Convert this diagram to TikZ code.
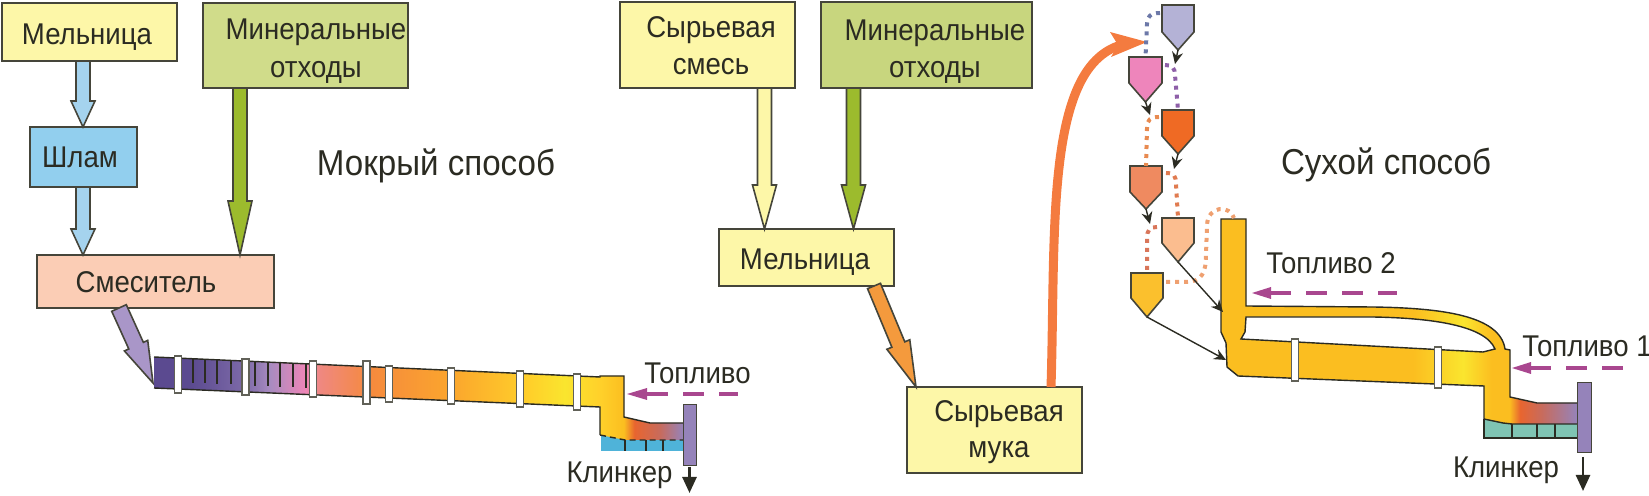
\documentclass[tikz,border=0pt]{standalone}
\usepackage{fontspec}
\setmainfont[FakeStretch=0.92]{Liberation Sans}
\usetikzlibrary{calc,arrows.meta}
\definecolor{ink}{HTML}{2B2B22}
\definecolor{edge}{HTML}{45453A}
\definecolor{paleY}{HTML}{FDF7A8}
\definecolor{paleG}{HTML}{D0DC8A}
\definecolor{paleG2}{HTML}{C8D67E}
\definecolor{skyA}{HTML}{A5D3EE}
\definecolor{skyB}{HTML}{92CFEE}
\definecolor{peach}{HTML}{FBCDB5}
\definecolor{grass}{HTML}{9CBB2D}
\definecolor{lilac}{HTML}{A996C8}
\definecolor{amber}{HTML}{F49A3D}
\definecolor{flame}{HTML}{F47B3F}
\definecolor{fuel}{HTML}{A9478F}
\definecolor{plateC}{HTML}{9583BA}
\definecolor{bedW}{HTML}{4FB3D9}
\definecolor{bedD}{HTML}{7FC4B3}
\definecolor{ka}{HTML}{5B4A90}
\definecolor{kb}{HTML}{7D6AA8}
\definecolor{kc}{HTML}{A98BC0}
\definecolor{kd}{HTML}{EE86B8}
\definecolor{ke}{HTML}{EF8880}
\definecolor{kf}{HTML}{F58A3E}
\definecolor{kg}{HTML}{FBA52D}
\definecolor{kh}{HTML}{FFD02A}
\definecolor{ki}{HTML}{FAE52E}
\definecolor{kj}{HTML}{FBBE20}
\definecolor{kk}{HTML}{E8652F}
\definecolor{kl}{HTML}{C86B5C}
\definecolor{hopA}{HTML}{B4B2D6}
\definecolor{hopB}{HTML}{EE85BB}
\definecolor{hopC}{HTML}{EF6A24}
\definecolor{hopD}{HTML}{EF8A60}
\definecolor{hopE}{HTML}{FBBD8F}
\definecolor{hopF}{HTML}{FBC02D}
\definecolor{dotA}{HTML}{6C78A8}
\definecolor{dotB}{HTML}{8E5FA8}
\definecolor{dotC}{HTML}{E88A50}
\definecolor{dotD}{HTML}{E07B50}
\definecolor{dotE}{HTML}{D9765A}
\definecolor{dotF}{HTML}{EFA070}
\pgfdeclarehorizontalshading{wetkiln}{100bp}{color(0bp)=(ka);color(25bp)=(ka);color(28.4bp)=(ka);color(33.6bp)=(kb);color(36bp)=(kc);color(39.3bp)=(kd);color(40.7bp)=(ke);color(45.4bp)=(kf);color(53bp)=(kg);color(60.5bp)=(kh);color(63.8bp)=(ki);color(67.2bp)=(kh);color(69.4bp)=(kj);color(70.4bp)=(kk);color(72.8bp)=(kl);color(75bp)=(plateC);color(100bp)=(plateC)}
\pgfdeclarehorizontalshading{drykiln}{100bp}{color(0bp)=(kj);color(25bp)=(kj);color(52bp)=(kj);color(59bp)=(ki);color(63bp)=(kj);color(65.5bp)=(kj);color(67bp)=(kk);color(70bp)=(kl);color(75bp)=(plateC);color(100bp)=(plateC)}
\tikzset{
  boxst/.style={draw=edge,line width=1pt,inner sep=0pt,outer sep=0pt,rectangle},
  lab/.style={anchor=base,inner sep=0pt,text=ink,font=\fontsize{15}{18}\selectfont},
  biglab/.style={anchor=base,inner sep=0pt,text=ink,font=\fontsize{18}{22}\selectfont},
  blockst/.style={draw=edge,line width=.8pt,line join=miter},
  fuelst/.style={draw=fuel,line width=2pt,dash pattern=on 10.5pt off 7.5pt},
  fuelhead/.style={fill=fuel,draw=none},
  ringst/.style={draw=edge!85,fill=white,line width=.6pt},
  kline/.style={draw=ink,line width=.7pt},
  dotst/.style={line width=2pt,dash pattern=on 2pt off 2.5pt},
  feed/.style={draw=ink,line width=.7pt,-{Stealth[length=6pt,width=5.5pt]}},
  hopst/.style={draw=edge,line width=.8pt,line join=miter},
  outflow/.style={draw=ink,line width=1.3pt,-{Triangle[length=8pt,width=7pt]}}
}
\newcommand\bx[6]{\node[boxst,fill=#2,minimum width={(#5-#3)*.5pt},minimum height={(#6-#4)*.5pt}] (#1) at ({(#3+#5)/2},{(#4+#6)/2}) {};}
\newcommand\block[6]{%
  \coordinate (hb) at ($#3!#6!#2$);
  \draw[blockst,fill=#1] ($#2!#4!90:#3$) -- ($(hb)!#4!90:#3$) -- ($(hb)!#5!90:#3$) -- #3 -- ($(hb)!#5!-90:#3$) -- ($(hb)!#4!-90:#3$) -- ($#2!#4!-90:#3$) -- cycle;}
\newcommand\hopper[7]{%
  \draw[hopst,fill=#2] (#3,#5) -- (#4,#5) -- (#4,#6) -- ({(#3+#4)/2},#7) -- (#3,#6) -- cycle;
  \coordinate (#1tip) at ({(#3+#4)/2},#7);
  \coordinate (#1top) at ({(#3+#4)/2},#5);}
\newcommand\ring[3]{\draw[ringst] (#1-3.5,#2) rectangle (#1+3.5,#3);}
\begin{document}
\begin{tikzpicture}[x=.5pt,y=-.5pt]
\useasboundingbox (0,0) rectangle (1649,496);
% ---------- wet process boxes
\bx{millA}{paleY}{2}{3}{177}{61}
\bx{wasteA}{paleG}{203}{3}{408}{88}
\bx{slurry}{skyB}{30}{127}{137}{187}
\bx{mixer}{peach}{37}{255}{274}{308}
\node[lab] (millAt) at (87,45) {Мельница};
\node[lab] (wasteAt) at (316,40) {Минеральные};
\node[lab] (wasteAu) at (316,78) {отходы};
\node[lab] (slurryt) at (80,168) {Шлам};
\node[lab] (mixert) at (146,293) {Смеситель};
\node[biglab] (wetT) at (436,176) {Мокрый способ};
\coordinate (xA) at (83,0);
\coordinate (xB) at (240,0);
\block{skyA}{(xA |- millA.south)}{(xA |- slurry.north)}{3.5pt}{6pt}{13pt}
\block{skyA}{(xA |- slurry.south)}{(xA |- mixer.north)}{3.5pt}{6pt}{13pt}
\block{grass}{(xB |- wasteA.south)}{(xB |- mixer.north)}{3.5pt}{6pt}{27pt}
% ---------- wet kiln
\fill[bedW] (601,436) -- (601,451) -- (683,451) -- (683,438) -- cycle;
\draw[kline] (625,440) -- (625,451) (646,440) -- (646,451) (663,440) -- (663,451);
\shade[shading=wetkiln] (154,357) -- (600,377) -- (600,376) -- (624,376) -- (624,417) -- (650,423) -- (683,423) -- (683,440) -- (625,440) -- (600,435) -- (600,407) -- (154,388) -- cycle;
\draw[kline] (154,357) -- (600,377) -- (600,376) -- (624,376) -- (624,417) -- (650,423) -- (683,423);
\draw[kline] (154,388) -- (600,407) -- (600,435);
\draw[kline,densely dashed] (600,435) -- (625,440) -- (683,440);
\foreach \x in {193,205,217,231,255,268,280,293,306}
  \draw[kline] (\x,{357+.045*(\x-154)}) -- (\x,{381+.045*(\x-154)});
\ring{178}{356}{393}\ring{245.5}{359}{395}\ring{313}{361}{397}\ring{366.5}{361}{404}
\ring{389}{366}{402}\ring{451}{368}{404}\ring{520}{371}{407}\ring{577}{374}{410}
\draw[edge,fill=plateC,line width=.5pt] (683,405) rectangle (696,466);
\coordinate (wetIn) at (153,383);
\coordinate (xC) at (119,0);
\block{lilac}{(xC |- mixer.south)}{(wetIn)}{4pt}{6.4pt}{20.5pt}
\coordinate (wetOutA) at (689.5,467);
\coordinate (wetOutB) at (689.5,493);
\draw[outflow] (wetOutA) -- (wetOutB);
\node[lab] (clinkerA) at (619.5,482) {Клинкер};
\node[lab] (fuelA) at (697.5,384) {Топливо};
\coordinate (fuelAend) at (738,394);
\coordinate (fuelAtip) at (627,394);
\draw[fuelst] (647,394) -- (fuelAend);
\fill[fuelhead] (fuelAtip) -- (647,388) -- (647,400) -- cycle;
% ---------- dry process boxes
\bx{rawmix}{paleY}{620}{2}{795}{88}
\bx{wasteB}{paleG2}{821}{2}{1032}{88}
\bx{millB}{paleY}{719}{229}{894}{286}
\bx{meal}{paleY}{907}{387}{1082}{473}
\node[lab] (rawmixt) at (711,38) {Сырьевая};
\node[lab] (rawmixu) at (711,75) {смесь};
\node[lab] (wasteBt) at (935,41) {Минеральные};
\node[lab] (wasteBu) at (935,78) {отходы};
\node[lab] (millBt) at (805,270) {Мельница};
\node[lab] (mealt) at (999,422) {Сырьевая};
\node[lab] (mealu) at (999,458) {мука};
\node[biglab] (dryT) at (1386,175) {Сухой способ};
\coordinate (xD) at (764.5,0);
\coordinate (xE) at (853.5,0);
\coordinate (xF) at (874,0);
\coordinate (xG) at (916,0);
\block{paleY}{(xD |- rawmix.south)}{(xD |- millB.north)}{3.5pt}{6pt}{22pt}
\block{grass}{(xE |- wasteB.south)}{(xE |- millB.north)}{3.5pt}{6pt}{22pt}
\block{amber}{(xF |- millB.south)}{(xG |- meal.north)}{3.5pt}{6.2pt}{23pt}
% big riser arrow
\coordinate (xH) at (1051,0);
\coordinate (bigTip) at (1147,42);
\draw[flame,line width=4.5pt] (xH |- meal.north) .. controls (1056,230) and (1044,62) .. (1125,44);
\fill[flame] (bigTip) -- (1110,32) -- (1118,45) -- (1111,57) -- cycle;
% ---------- dry kiln (behind arrows)
\fill[bedD] (1484,419) -- (1484,438) -- (1577,438) -- (1577,424) -- cycle;
\draw[kline] (1484,419) -- (1484,438) -- (1577,438);
\draw[kline] (1512,424) -- (1512,438) (1537,424) -- (1537,438) (1555,424) -- (1555,438);
\shade[shading=drykiln] (1221,219) -- (1246,219) -- (1246,306) -- (1373,307) .. controls (1440,308) and (1500,315) .. (1505,349) -- (1510,350) -- (1510,397) -- (1537,403) -- (1577,403) -- (1577,424) -- (1512,424) -- (1503,423) -- (1484,419) -- (1484,386) -- (1238,376) -- (1227,367) -- (1226,343) -- (1221,332) -- cycle;
\draw[kline] (1577,403) -- (1537,403) -- (1510,397) -- (1510,350) -- (1505,349) .. controls (1500,315) and (1440,308) .. (1373,307) -- (1246,306) -- (1246,219) -- (1221,219) -- (1221,332) -- (1226,343) -- (1227,367) -- (1238,376) -- (1484,386) -- (1484,419) -- (1503,423) -- (1512,424) -- (1577,424);
\draw[kline,fill=white] (1246,317) -- (1373,317) .. controls (1430,318) and (1485,325) .. (1495,349) -- (1483,352) -- (1241,339) -- (1245,332) -- cycle;
\ring{1295}{339}{381}\ring{1438}{347}{388}
\draw[edge,fill=plateC,line width=.5pt] (1577,383) rectangle (1591,453);
\coordinate (dryOutA) at (1583,457);
\coordinate (dryOutB) at (1583,491);
\draw[outflow] (dryOutA) -- (dryOutB);
\node[lab] (clinkerB) at (1506,478) {Клинкер};
\node[lab] (fuelB) at (1331,274) {Топливо 2};
\node[lab] (fuelC) at (1587,357) {Топливо 1};
\coordinate (fuelBend) at (1397,293);
\coordinate (fuelBtip) at (1252,293);
\draw[fuelst] (1270,293) -- (fuelBend);
\fill[fuelhead] (fuelBtip) -- (1271,287) -- (1271,299) -- cycle;
\coordinate (fuelCend) at (1625,368);
\coordinate (fuelCtip) at (1512,368);
\draw[fuelst] (1530,368) -- (fuelCend);
\fill[fuelhead] (fuelCtip) -- (1531,362) -- (1531,374) -- cycle;
% ---------- cyclones
\hopper{hA}{hopA}{1162}{1194}{5}{32}{50}
\hopper{hB}{hopB}{1129}{1162}{57}{83}{102}
\hopper{hC}{hopC}{1162}{1194}{110}{136}{154}
\hopper{hD}{hopD}{1130}{1162}{166}{192}{209}
\hopper{hE}{hopE}{1162}{1194}{218}{243}{262}
\hopper{hF}{hopF}{1131}{1163}{273}{298}{317}
\draw[dotA,dotst] (1160,13) .. controls (1150,13) and (1147,17) .. (1147,24) -- (hBtop);
\draw[dotB,dotst] (1165,65) .. controls (1172,65) and (1175,68) .. (1175,75) -- (hCtop);
\draw[dotC,dotst] (1159,117) .. controls (1150,117) and (1147,120) .. (1147,128) -- (hDtop);
\draw[dotD,dotst] (1166,173) .. controls (1174,173) and (1176,176) .. (1176,184) -- (hEtop);
\draw[dotE,dotst] (1157,227) .. controls (1150,227) and (1147,230) .. (1147,238) -- (hFtop);
\draw[dotF,dotst] (1166,282) -- (1186,282) .. controls (1202,282) and (1206,272) .. (1206,255) -- (1207,225) .. controls (1208,205) and (1230,205) .. (1234,218);
\draw[feed] (hAtip) -- (1175,64);
\draw[feed] (hBtip) -- (1150,115);
\draw[feed] (hCtip) -- (1174,169);
\draw[feed] (hDtip) -- (1150,224);
\draw[feed] (hEtip) -- (1223,312);
\draw[feed] (hFtip) -- (1226,360);
\end{tikzpicture}
\end{document}
